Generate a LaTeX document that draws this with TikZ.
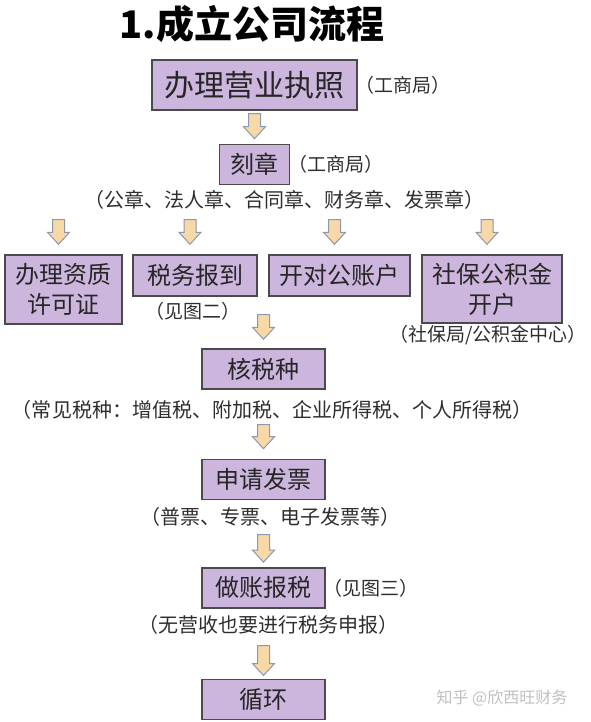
\documentclass[tikz,border=0pt]{standalone}
\usepackage{fontspec}
\setmainfont{Noto Sans CJK SC}
\usetikzlibrary{positioning}
\usetikzlibrary{calc}

\definecolor{boxfill}{HTML}{CDB6DE}
\definecolor{boxline}{HTML}{4A4A4A}
\definecolor{arrowfill}{HTML}{F8D8A6}
\definecolor{arrowline}{HTML}{8A98B0}
\definecolor{notetext}{HTML}{2E2E2E}

\tikzset{
  procbox/.style={draw=boxline, line width=1.4pt, fill=boxfill, inner sep=0pt, align=center, text=black!85, font=\fontsize{24}{30}\selectfont},
  note/.style={inner sep=0pt, text=notetext, font=\fontsize{20}{24}\selectfont},
  smallnote/.style={note, font=\fontsize{19}{22}\selectfont},
  blockarrow/.style={draw=arrowline, fill=arrowfill, line width=1pt, line join=miter}
}

% block arrow pointing down, x taken from the lower end
\newcommand{\flowarrow}[2]{%
  \draw[blockarrow] let \p1 = (#1), \p2 = (#2) in
    (\x2-6pt,\y1) -- (\x2-6pt,\y2+12pt) -- (\x2-11pt,\y2+12pt) -- (\x2,\y2)
    -- (\x2+11pt,\y2+12pt) -- (\x2+6pt,\y2+12pt) -- (\x2+6pt,\y1) -- cycle;}

\begin{document}
\begin{tikzpicture}[x=1pt, y=-1pt]
        \useasboundingbox (0,0) rectangle (590,722);

        \node[font=\fontsize{38}{40}\selectfont\bfseries] (title) at (252,24) {1.成立公司流程};

        \node[procbox, minimum width=205pt, minimum height=50pt, font=\fontsize{30}{34}\selectfont] (licence) at (254.5,85) {办理营业执照};
        \node[smallnote, right = -2pt of licence] (licence_note) {（工商局）};

        \node[procbox, minimum width=70pt, minimum height=40pt, below = 33pt of licence] (seal) {刻章};
        \node[smallnote, right = -2pt of seal] (seal_note) {（工商局）};
        \node[note] (seal_list) at (284,200) {（公章、法人章、合同章、财务章、发票章）};

        \flowarrow{[yshift=-3pt]licence.south}{[yshift=5pt]seal.north}

        % four parallel steps
        \node[procbox, minimum width=117pt, minimum height=69pt] (permit) at (63.5,289.5) {办理资质\\许可证};
        \node[procbox, minimum width=124pt, minimum height=41pt] (tax_reg) at (195,275.5) {税务报到};
        \node[procbox, minimum width=141pt, minimum height=41pt] (bank) at (339.5,275.5) {开对公账户};
        \node[procbox, minimum width=140pt, minimum height=68pt] (social) at (492,289) {社保公积金\\开户};
        \node[smallnote] (tax_reg_note) at (193,311) {（见图二）};
        \node[smallnote] (social_note) at (488,335) {（社保局/公积金中心）};

        \flowarrow{[yshift=-10pt]seal_list.south}{[xshift=-5pt, yshift=10pt]permit.north}
        \flowarrow{[yshift=-10pt]seal_list.south}{[xshift=-5pt, yshift=10pt]tax_reg.north}
        \flowarrow{[yshift=-10pt]seal_list.south}{[xshift=-5pt, yshift=10pt]bank.north}
        \flowarrow{[yshift=-10pt]seal_list.south}{[xshift=-5pt, yshift=10pt]social.north}

        \node[procbox, minimum width=123pt, minimum height=40pt] (tax_type) at (263.5,369) {核税种};
        \node[note] (tax_type_note) at (272,410) {（常见税种：增值税、附加税、企业所得税、个人所得税）};

        \node[procbox, minimum width=123pt, minimum height=40pt, below = 69pt of tax_type] (invoice) {申请发票};
        \node[note] (invoice_note) at (270,517) {（普票、专票、电子发票等）};

        \node[procbox, minimum width=123pt, minimum height=40pt, below = 67pt of invoice] (bookkeeping) {做账报税};
        \node[smallnote, right = -2pt of bookkeeping] (bookkeeping_note) {（见图三）};
        \node[note] (zero_note) at (268,625) {（无营收也要进行税务申报）};

        \node[procbox, minimum width=123pt, minimum height=40pt, below = 70pt of bookkeeping] (cycle) {循环};

        \flowarrow{[yshift=-18pt]tax_reg.south}{[yshift=9pt]tax_type.north}
        \flowarrow{[yshift=-5pt]tax_type_note.south}{[yshift=10pt]invoice.north}
        \flowarrow{[yshift=-8pt]invoice_note.south}{[yshift=5pt]bookkeeping.north}
        \flowarrow{[yshift=-11pt]zero_note.south}{[yshift=3pt]cycle.north}

        \node[font=\fontsize{16}{18}\selectfont, text=black!25] (watermark) at (502,698) {知乎 @欣西旺财务};
\end{tikzpicture}
\end{document}
